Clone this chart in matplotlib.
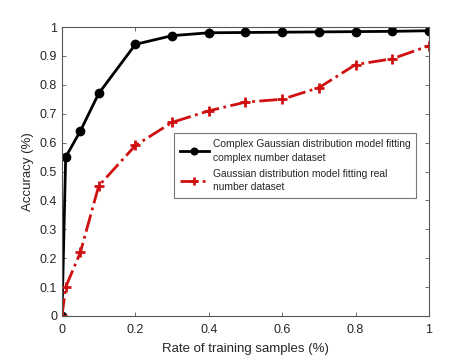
import matplotlib
matplotlib.use('Agg')
import matplotlib.pyplot as plt

plt.rcParams['font.family'] = ['Liberation Sans', 'DejaVu Sans']

# ---------- data ----------
rate = [0, 0.01, 0.05, 0.1, 0.2, 0.3, 0.4, 0.5, 0.6, 0.7, 0.8, 0.9, 1.0]
accComplex = [0, 0.55, 0.64, 0.77, 0.94, 0.97, 0.98, 0.981, 0.982, 0.983, 0.984, 0.985, 0.987]
accReal = [0, 0.10, 0.22, 0.45, 0.59, 0.67, 0.71, 0.74, 0.75, 0.79, 0.87, 0.89, 0.935]

labComplex = 'Complex Gaussian distribution model fitting\ncomplex number dataset'
labReal = 'Gaussian distribution model fitting real\nnumber dataset'

xTicks = [0, 0.2, 0.4, 0.6, 0.8, 1]
yTicks = [0, 0.1, 0.2, 0.3, 0.4, 0.5, 0.6, 0.7, 0.8, 0.9, 1]

# ---------- plot ----------
fig = plt.figure(figsize=(4.74, 3.55), dpi=100)
ax = fig.add_axes([62/474, 1 - 316/355, (429-62)/474, (316-27)/355])

ax.plot(rate, accComplex, '-o', color='black', lw=2, ms=6, label=labComplex)
ax.plot(rate, accReal, '-.+', color='#d01010', lw=2, ms=7, mew=2,
        label=labReal)

ax.set_xlim(0, 1)
ax.set_ylim(0, 1)
ax.set_xticks(xTicks)
ax.set_xticklabels(['0', '0.2', '0.4', '0.6', '0.8', '1'])
ax.set_yticks(yTicks)
ax.set_yticklabels(['0', '0.1', '0.2', '0.3', '0.4', '0.5', '0.6', '0.7', '0.8', '0.9', '1'])

grey = '#262626'
for s in ax.spines.values():
    s.set_color('#555555')
    s.set_linewidth(0.8)
ax.tick_params(direction='in', top=True, right=True, length=3, width=0.6,
               colors='#555555', labelcolor=grey, labelsize=9)
ax.tick_params(axis='x', pad=6)
ax.set_xlabel('Rate of training samples (%)', fontsize=9.5, color=grey, labelpad=5)
ax.set_ylabel('Accuracy (%)', fontsize=9.5, color=grey, labelpad=4)

leg = ax.legend(loc='lower right', bbox_to_anchor=(0.965, 0.408), fontsize=7.4,
                frameon=True, fancybox=False, handlelength=2.8, markerscale=0.8,
                borderpad=0.55, labelspacing=0.6, handletextpad=0.4,
                borderaxespad=0)
leg.get_frame().set_edgecolor('#555555')
leg.get_frame().set_linewidth(0.8)
for t in leg.get_texts():
    t.set_color(grey)
    t.set_linespacing(1.45)

plt.savefig('out.png', dpi=100)
